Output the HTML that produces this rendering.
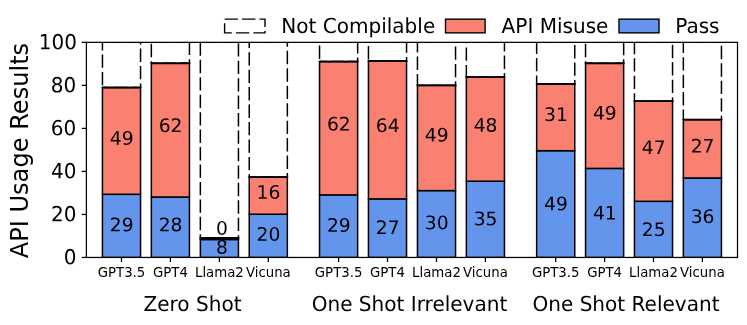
<!DOCTYPE html>
<html><head><meta charset="utf-8"><title>API Usage Results</title>
<style>html,body{margin:0;padding:0;background:#fff}svg{display:block}text{font-family:"DejaVu Sans","Liberation Sans",sans-serif;fill:#000}</style></head><body>
<svg width="747" height="325" viewBox="0 0 747 325">
<rect x="0" y="0" width="747" height="325" fill="#fff"/>
<defs><clipPath id="ax"><rect x="86.4" y="42.35" width="651.10" height="215.10"/></clipPath></defs>
<g clip-path="url(#ax)">
<path d="M102.45 87.50L140.55 87.50L140.55 42.35L102.45 42.35L102.45 87.50" fill="none" stroke="#000" stroke-width="1.5" stroke-dasharray="13.35 4.10" stroke-dashoffset="6.10"/>
<rect x="102.45" y="194.30" width="38.1" height="63.15" fill="#6495ED" stroke="#000" stroke-width="1.5"/>
<rect x="102.45" y="87.50" width="38.1" height="106.80" fill="#FA8072" stroke="#000" stroke-width="1.5"/>
<path d="M101.70 87.50H141.30" stroke="#000" stroke-width="1.75"/>
<path d="M151.35 63.25L189.45 63.25L189.45 42.35L151.35 42.35L151.35 63.25" fill="none" stroke="#000" stroke-width="1.5" stroke-dasharray="13.35 4.10" stroke-dashoffset="6.10"/>
<rect x="151.35" y="197.00" width="38.1" height="60.45" fill="#6495ED" stroke="#000" stroke-width="1.5"/>
<rect x="151.35" y="63.25" width="38.1" height="133.75" fill="#FA8072" stroke="#000" stroke-width="1.5"/>
<path d="M150.60 63.25H190.20" stroke="#000" stroke-width="1.75"/>
<path d="M200.35 237.90L238.45 237.90L238.45 42.35L200.35 42.35L200.35 237.90" fill="none" stroke="#000" stroke-width="1.5" stroke-dasharray="13.35 4.10" stroke-dashoffset="7.45"/>
<rect x="200.35" y="239.50" width="38.1" height="17.95" fill="#6495ED" stroke="#000" stroke-width="1.5"/>
<rect x="200.35" y="237.90" width="38.1" height="1.60" fill="#FA8072" stroke="#000" stroke-width="1.5"/>
<path d="M199.60 237.90H239.20" stroke="#000" stroke-width="1.75"/>
<path d="M249.25 177.07L287.35 177.07L287.35 42.35L249.25 42.35L249.25 177.07" fill="none" stroke="#000" stroke-width="1.5" stroke-dasharray="13.35 4.10" stroke-dashoffset="6.10"/>
<rect x="249.25" y="214.20" width="38.1" height="43.25" fill="#6495ED" stroke="#000" stroke-width="1.5"/>
<rect x="249.25" y="177.07" width="38.1" height="37.13" fill="#FA8072" stroke="#000" stroke-width="1.5"/>
<path d="M248.50 177.07H288.10" stroke="#000" stroke-width="1.75"/>
<path d="M319.55 61.56L357.65 61.56L357.65 42.35L319.55 42.35L319.55 61.56" fill="none" stroke="#000" stroke-width="1.5" stroke-dasharray="13.35 4.10" stroke-dashoffset="6.10"/>
<rect x="319.55" y="194.90" width="38.1" height="62.55" fill="#6495ED" stroke="#000" stroke-width="1.5"/>
<rect x="319.55" y="61.56" width="38.1" height="133.34" fill="#FA8072" stroke="#000" stroke-width="1.5"/>
<path d="M318.80 61.56H358.40" stroke="#000" stroke-width="1.75"/>
<path d="M368.45 61.00L406.55 61.00L406.55 42.35L368.45 42.35L368.45 61.00" fill="none" stroke="#000" stroke-width="1.5" stroke-dasharray="13.35 4.10" stroke-dashoffset="6.10"/>
<rect x="368.45" y="198.90" width="38.1" height="58.55" fill="#6495ED" stroke="#000" stroke-width="1.5"/>
<rect x="368.45" y="61.00" width="38.1" height="137.90" fill="#FA8072" stroke="#000" stroke-width="1.5"/>
<path d="M367.70 61.00H407.30" stroke="#000" stroke-width="1.75"/>
<path d="M417.45 85.40L455.55 85.40L455.55 42.35L417.45 42.35L417.45 85.40" fill="none" stroke="#000" stroke-width="1.5" stroke-dasharray="13.35 4.10" stroke-dashoffset="6.10"/>
<rect x="417.45" y="190.60" width="38.1" height="66.85" fill="#6495ED" stroke="#000" stroke-width="1.5"/>
<rect x="417.45" y="85.40" width="38.1" height="105.20" fill="#FA8072" stroke="#000" stroke-width="1.5"/>
<path d="M416.70 85.40H456.30" stroke="#000" stroke-width="1.75"/>
<path d="M466.35 77.10L504.45 77.10L504.45 42.35L466.35 42.35L466.35 77.10" fill="none" stroke="#000" stroke-width="1.5" stroke-dasharray="13.35 4.10" stroke-dashoffset="6.10"/>
<rect x="466.35" y="181.20" width="38.1" height="76.25" fill="#6495ED" stroke="#000" stroke-width="1.5"/>
<rect x="466.35" y="77.10" width="38.1" height="104.10" fill="#FA8072" stroke="#000" stroke-width="1.5"/>
<path d="M465.60 77.10H505.20" stroke="#000" stroke-width="1.75"/>
<path d="M536.65 84.00L574.75 84.00L574.75 42.35L536.65 42.35L536.65 84.00" fill="none" stroke="#000" stroke-width="1.5" stroke-dasharray="13.35 4.10" stroke-dashoffset="6.10"/>
<rect x="536.65" y="150.70" width="38.1" height="106.75" fill="#6495ED" stroke="#000" stroke-width="1.5"/>
<rect x="536.65" y="84.00" width="38.1" height="66.70" fill="#FA8072" stroke="#000" stroke-width="1.5"/>
<path d="M535.90 84.00H575.50" stroke="#000" stroke-width="1.75"/>
<path d="M585.55 63.30L623.65 63.30L623.65 42.35L585.55 42.35L585.55 63.30" fill="none" stroke="#000" stroke-width="1.5" stroke-dasharray="13.35 4.10" stroke-dashoffset="6.10"/>
<rect x="585.55" y="168.40" width="38.1" height="89.05" fill="#6495ED" stroke="#000" stroke-width="1.5"/>
<rect x="585.55" y="63.30" width="38.1" height="105.10" fill="#FA8072" stroke="#000" stroke-width="1.5"/>
<path d="M584.80 63.30H624.40" stroke="#000" stroke-width="1.75"/>
<path d="M634.45 101.20L672.55 101.20L672.55 42.35L634.45 42.35L634.45 101.20" fill="none" stroke="#000" stroke-width="1.5" stroke-dasharray="13.35 4.10" stroke-dashoffset="6.10"/>
<rect x="634.45" y="201.30" width="38.1" height="56.15" fill="#6495ED" stroke="#000" stroke-width="1.5"/>
<rect x="634.45" y="101.20" width="38.1" height="100.10" fill="#FA8072" stroke="#000" stroke-width="1.5"/>
<path d="M633.70 101.20H673.30" stroke="#000" stroke-width="1.75"/>
<path d="M683.35 119.70L721.45 119.70L721.45 42.35L683.35 42.35L683.35 119.70" fill="none" stroke="#000" stroke-width="1.5" stroke-dasharray="13.35 4.10" stroke-dashoffset="6.10"/>
<rect x="683.35" y="178.00" width="38.1" height="79.45" fill="#6495ED" stroke="#000" stroke-width="1.5"/>
<rect x="683.35" y="119.70" width="38.1" height="58.30" fill="#FA8072" stroke="#000" stroke-width="1.5"/>
<path d="M682.60 119.70H722.20" stroke="#000" stroke-width="1.75"/>
</g>
<text transform="translate(121.70 231.37) rotate(0.05)" font-size="18.7" text-anchor="middle">29</text>
<text transform="translate(121.70 144.72) rotate(0.05)" font-size="18.7" text-anchor="middle">49</text>
<text transform="translate(170.60 231.37) rotate(0.05)" font-size="18.7" text-anchor="middle">28</text>
<text transform="translate(170.60 132.02) rotate(0.05)" font-size="18.7" text-anchor="middle">62</text>
<text transform="translate(222.00 253.82) rotate(0.05)" font-size="18.7" text-anchor="middle">8</text>
<text transform="translate(222.00 234.82) rotate(0.05)" font-size="18.7" text-anchor="middle">0</text>
<text transform="translate(268.50 240.87) rotate(0.05)" font-size="18.7" text-anchor="middle">20</text>
<text transform="translate(268.50 198.72) rotate(0.05)" font-size="18.7" text-anchor="middle">16</text>
<text transform="translate(338.80 231.87) rotate(0.05)" font-size="18.7" text-anchor="middle">29</text>
<text transform="translate(338.80 130.62) rotate(0.05)" font-size="18.7" text-anchor="middle">62</text>
<text transform="translate(387.70 234.02) rotate(0.05)" font-size="18.7" text-anchor="middle">27</text>
<text transform="translate(387.70 131.97) rotate(0.05)" font-size="18.7" text-anchor="middle">64</text>
<text transform="translate(436.70 229.22) rotate(0.05)" font-size="18.7" text-anchor="middle">30</text>
<text transform="translate(436.70 141.62) rotate(0.05)" font-size="18.7" text-anchor="middle">49</text>
<text transform="translate(485.60 225.22) rotate(0.05)" font-size="18.7" text-anchor="middle">35</text>
<text transform="translate(485.60 131.82) rotate(0.05)" font-size="18.7" text-anchor="middle">48</text>
<text transform="translate(555.90 210.22) rotate(0.05)" font-size="18.7" text-anchor="middle">49</text>
<text transform="translate(555.90 121.12) rotate(0.05)" font-size="18.7" text-anchor="middle">31</text>
<text transform="translate(604.80 219.52) rotate(0.05)" font-size="18.7" text-anchor="middle">41</text>
<text transform="translate(604.80 119.62) rotate(0.05)" font-size="18.7" text-anchor="middle">49</text>
<text transform="translate(653.70 235.92) rotate(0.05)" font-size="18.7" text-anchor="middle">25</text>
<text transform="translate(653.70 153.92) rotate(0.05)" font-size="18.7" text-anchor="middle">47</text>
<text transform="translate(702.60 222.92) rotate(0.05)" font-size="18.7" text-anchor="middle">36</text>
<text transform="translate(702.60 152.62) rotate(0.05)" font-size="18.7" text-anchor="middle">27</text>
<rect x="86.4" y="42.35" width="651.10" height="215.10" fill="none" stroke="#000" stroke-width="1.25"/>
<path d="M81.70 257.45H86.4" stroke="#000" stroke-width="1.25"/>
<text transform="translate(76.50 264.30) rotate(0.05) scale(1 1.04)" font-size="20.0" text-anchor="end">0</text>
<path d="M81.70 214.43H86.4" stroke="#000" stroke-width="1.25"/>
<text transform="translate(76.50 221.28) rotate(0.05) scale(1 1.04)" font-size="20.0" text-anchor="end">20</text>
<path d="M81.70 171.41H86.4" stroke="#000" stroke-width="1.25"/>
<text transform="translate(76.50 178.26) rotate(0.05) scale(1 1.04)" font-size="20.0" text-anchor="end">40</text>
<path d="M81.70 128.39H86.4" stroke="#000" stroke-width="1.25"/>
<text transform="translate(76.30 135.24) rotate(0.05) scale(1 1.04)" font-size="20.0" text-anchor="end">60</text>
<path d="M81.70 85.37H86.4" stroke="#000" stroke-width="1.25"/>
<text transform="translate(76.30 92.22) rotate(0.05) scale(1 1.04)" font-size="20.0" text-anchor="end">80</text>
<path d="M81.70 42.35H86.4" stroke="#000" stroke-width="1.25"/>
<text transform="translate(76.90 49.20) rotate(0.05) scale(1 1.04)" font-size="20.0" text-anchor="end">100</text>
<path d="M121.50 257.45V262.05" stroke="#000" stroke-width="1.25"/>
<text transform="translate(121.50 277.20) scale(1 1.06)" font-size="13.3" text-anchor="middle">GPT3.5</text>
<path d="M170.40 257.45V262.05" stroke="#000" stroke-width="1.25"/>
<text transform="translate(170.40 277.20) scale(1 1.06)" font-size="13.3" text-anchor="middle">GPT4</text>
<path d="M219.40 257.45V262.05" stroke="#000" stroke-width="1.25"/>
<text transform="translate(219.40 277.20) scale(1 1.06)" font-size="13.3" text-anchor="middle">Llama2</text>
<path d="M268.30 257.45V262.05" stroke="#000" stroke-width="1.25"/>
<text transform="translate(268.30 277.20) scale(1 1.06)" font-size="13.3" text-anchor="middle">Vicuna</text>
<path d="M338.60 257.45V262.05" stroke="#000" stroke-width="1.25"/>
<text transform="translate(338.60 277.20) scale(1 1.06)" font-size="13.3" text-anchor="middle">GPT3.5</text>
<path d="M387.50 257.45V262.05" stroke="#000" stroke-width="1.25"/>
<text transform="translate(387.50 277.20) scale(1 1.06)" font-size="13.3" text-anchor="middle">GPT4</text>
<path d="M436.50 257.45V262.05" stroke="#000" stroke-width="1.25"/>
<text transform="translate(436.50 277.20) scale(1 1.06)" font-size="13.3" text-anchor="middle">Llama2</text>
<path d="M485.40 257.45V262.05" stroke="#000" stroke-width="1.25"/>
<text transform="translate(485.40 277.20) scale(1 1.06)" font-size="13.3" text-anchor="middle">Vicuna</text>
<path d="M555.70 257.45V262.05" stroke="#000" stroke-width="1.25"/>
<text transform="translate(555.70 277.20) scale(1 1.06)" font-size="13.3" text-anchor="middle">GPT3.5</text>
<path d="M604.60 257.45V262.05" stroke="#000" stroke-width="1.25"/>
<text transform="translate(604.60 277.20) scale(1 1.06)" font-size="13.3" text-anchor="middle">GPT4</text>
<path d="M653.50 257.45V262.05" stroke="#000" stroke-width="1.25"/>
<text transform="translate(653.50 277.20) scale(1 1.06)" font-size="13.3" text-anchor="middle">Llama2</text>
<path d="M702.40 257.45V262.05" stroke="#000" stroke-width="1.25"/>
<text transform="translate(702.40 277.20) scale(1 1.06)" font-size="13.3" text-anchor="middle">Vicuna</text>
<text transform="translate(192.50 311.00) rotate(0.05) scale(1 1.03)" font-size="20.05" text-anchor="middle">Zero Shot</text>
<text transform="translate(409.50 311.00) rotate(0.05) scale(1 1.03)" font-size="20.05" text-anchor="middle">One Shot Irrelevant</text>
<text transform="translate(626.00 311.00) rotate(0.05) scale(1 1.03)" font-size="20.05" text-anchor="middle">One Shot Relevant</text>
<text transform="translate(28.20 150.60) rotate(-90)" font-size="24.1" text-anchor="middle">API Usage Results</text>
<path d="M224.6 32.85L265.0 32.85L265.0 19.15L224.6 19.15Z" fill="none" stroke="#000" stroke-width="1.4" stroke-dasharray="13.35 4.10" stroke-dashoffset="6.10"/>
<text transform="translate(281.20 33.00) rotate(0.05) scale(1 1.03)" font-size="20.05" text-anchor="start">Not Compilable</text>
<rect x="445.5" y="19.15" width="39.6" height="13.7" fill="#FA8072" stroke="#000" stroke-width="1.4"/>
<text transform="translate(501.60 33.00) rotate(0.05) scale(1 1.03)" font-size="20.05" text-anchor="start">API Misuse</text>
<rect x="619" y="19.15" width="40" height="13.7" fill="#6495ED" stroke="#000" stroke-width="1.4"/>
<text transform="translate(675.20 33.00) rotate(0.05) scale(1 1.03)" font-size="20.05" text-anchor="start">Pass</text>
</svg></body></html>
